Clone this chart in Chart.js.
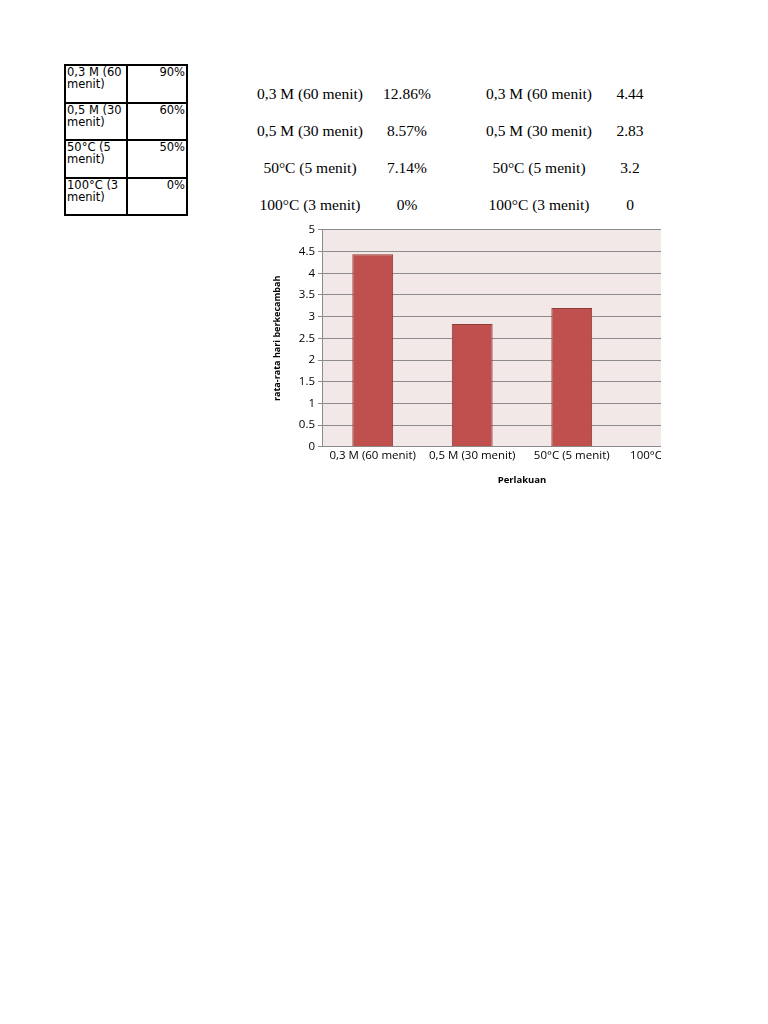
<!DOCTYPE html>
<html>
<head>
<meta charset="utf-8">
<script src="https://cdn.jsdelivr.net/npm/chart.js@4"></script>
<style>
  body { margin: 0; background: #fff; width: 768px; height: 1024px; position: relative; }
  table.box { position: absolute; left: 64px; top: 64px; border-collapse: collapse; font-family: "DejaVu Sans", sans-serif; font-size: 11.5px; line-height: 12px; }
  table.box td { border: 2px solid #000; vertical-align: top; padding: 0 1px; height: 35.5px; }
  table.box td.lab { width: 58px; }
  table.box td.val { width: 56px; text-align: right; }
  .txt { position: absolute; font-family: "Liberation Serif", serif; font-size: 15.5px; line-height: 18px; color: #000; white-space: nowrap; transform: translateX(-50%); }
  #clip { position: absolute; left: 266px; top: 220px; width: 395px; height: 274px; overflow: hidden; }
  #wrap { position: relative; width: 455px; height: 272px; }
</style>
</head>
<body>
<table class="box" id="box"></table>
<div id="texts"></div>
<div id="clip"><div id="wrap"><canvas id="bar-chart"></canvas></div></div>
<script>
const categories = ['0,3 M (60 menit)', '0,5 M (30 menit)', '50\u00B0C (5 menit)', '100\u00B0C (3 menit)'];
const boxLabels = ['0,3 M (60 menit)', '0,5 M (30 menit)', '50\u00B0C (5 menit)', '100\u00B0C (3 menit)'];
const boxValues = ['90%', '60%', '50%', '0%'];
const percentValues = ['12.86%', '8.57%', '7.14%', '0%'];
const meanDays = [4.44, 2.83, 3.2, 0];
const meanDaysText = ['4.44', '2.83', '3.2', '0'];

// small table on the left
let box = document.getElementById('box');
boxLabels.forEach(function (l, i) {
  let tr = document.createElement('tr');
  tr.innerHTML = '<td class="lab">' + l + '</td><td class="val">' + boxValues[i] + '</td>';
  box.appendChild(tr);
});

// the two text columns above the chart
let texts = document.getElementById('texts');
const rowsY = [85, 122, 159, 196];
const cols = [[310, categories], [407, percentValues], [539, categories], [630, meanDaysText]];
cols.forEach(function (c) {
  c[1].forEach(function (t, i) {
    let d = document.createElement('div');
    d.className = 'txt';
    d.style.left = c[0] + 'px';
    d.style.top = rowsY[i] + 'px';
    d.textContent = t;
    texts.appendChild(d);
  });
});

const plotBg = {
  id: 'plotBg',
  beforeDraw(chart) {
    const a = chart.chartArea;
    chart.ctx.save();
    chart.ctx.fillStyle = '#f2e8e8';
    chart.ctx.fillRect(a.left, a.top, a.right - a.left, a.bottom - a.top);
    chart.ctx.restore();
  }
};

new Chart(document.getElementById('bar-chart'), {
  type: 'bar',
  data: {
    labels: categories,
    datasets: [{
      data: meanDays,
      backgroundColor: '#c0504d',
      borderColor: '#8c3b39',
      borderWidth: 1,
      barPercentage: 0.5,
      categoryPercentage: 0.82
    }]
  },
  options: {
    responsive: true,
    maintainAspectRatio: false,
    animation: false,
    layout: { padding: { top: 8, right: 0, left: 6, bottom: 6 } },
    plugins: { legend: { display: false }, tooltip: { enabled: false } },
    scales: {
      x: {
        grid: { display: false, drawTicks: false },
        border: { display: true, color: '#8c8c8c' },
        ticks: { color: '#000', font: { family: 'Open Sans', size: 11.5 }, maxRotation: 0, autoSkip: false, padding: 2 },
        title: { display: true, text: 'Perlakuan', color: '#000', font: { family: 'Open Sans', size: 9.5, weight: 'bold' }, padding: { top: 10, bottom: 0 } }
      },
      y: {
        min: 0,
        max: 5,
        ticks: { stepSize: 0.5, color: '#000', font: { family: 'Open Sans', size: 11.5 }, padding: 3,
          callback: function (v) { return String(v); } },
        grid: { color: '#8c8c8c', tickLength: 5 },
        border: { display: true, color: '#8c8c8c' },
        title: { display: true, text: 'rata-rata hari berkecambah', color: '#000', font: { family: 'Open Sans', size: 9, weight: 'bold' }, padding: { top: 0, bottom: 13 } }
      }
    }
  },
  plugins: [plotBg]
});
</script>
</body>
</html>
